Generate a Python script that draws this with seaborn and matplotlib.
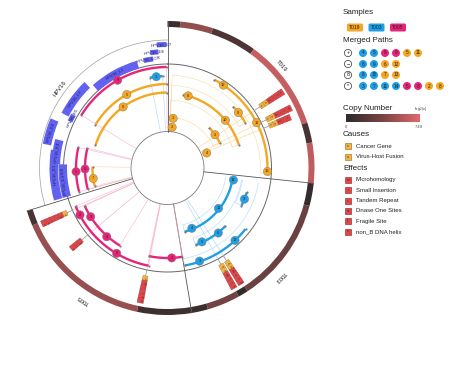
import numpy as np
import matplotlib
matplotlib.use("Agg")
import matplotlib.pyplot as plt
import seaborn as sns
import pandas as pd
from matplotlib.colors import LinearSegmentedColormap, Normalize
from matplotlib.patches import FancyBboxPatch, Rectangle, Circle

sns.set_theme(style="white")
plt.rcParams['font.family'] = ['Liberation Sans', 'DejaVu Sans']

# ---------------- data ----------------
samples = ["T019", "T003", "T005"]
sample_colors = ["#f5a623", "#1e9fe8", "#e8247a"]
sample_light = ["#f9d79a", "#a8d8f6", "#f6b0cf"]

sector_names = ["T019", "T003", "T005", "HPV16"]
sector_start = [0, 96, 170.5, 253]
sector_end = [96, 170.5, 253, 360]
sector_label_theta = [48, 134, 212.5, 306.5]
sector_label_r = [153, 157, 156, 134]

# copy number ring (degrees clockwise from top)
cn_start = [0, 5, 18, 36, 72, 80, 96, 105, 147, 151, 164, 170.5, 192, 247]
cn_end = [5, 18, 36, 72, 80, 96, 105, 147, 151, 164, 170.5, 192, 247, 253]
cn_value = [0.5, 4.6, 1.6, 6.4, 1.2, 6.2, 0.3, 3.0, 0.3, 3.4, 0.6, 0.8, 4.8, 1.2]
cn_max = 7.49

# merged path arcs: sample, radius, start, end
arc_sample = ["T019", "T019", "T019", "T019", "T019", "T019", "T019", "T019", "T019", "T019",
              "T003", "T003", "T003", "T003", "T003",
              "T005", "T005", "T005", "T005", "T005", "T005"]
arc_r = [100, 75, 90, 58, 42, 50, 41, 84, 75.5, 75,
         66, 83, 82, 99, 92,
         101, 91.5, 82.5, 99.5, 91, 90]
arc_start = [28, 12, 47, 46, 66, 4, 4, 301, 287.5, 256,
             98.5, 107, 135, 128, 349,
             301.5, 255, 255, 191, 211.5, 170.5]
arc_end = [93, 72, 60, 65, 72, 9, 9, 359.5, 359.5, 271,
           165, 117, 160, 170, 357,
           359.5, 283, 284, 247.5, 245.5, 192]
arc_bracket = [True, True, True, True, False, False, False, False, False, False,
               True, True, True, True, False,
               False, False, False, False, False, False]
arc_stem = [False, False, False, False, False, False, False, False, False, True,
            False, False, False, False, True,
            True, True, True, True, True, True]

# nodes on merged paths
node_sample = ["T019"] * 13 + ["T003"] * 9 + ["T005"] * 8
node_theta = [6.5, 6.5, 16, 34, 50.5, 52, 55, 63, 69, 92, 331, 324, 262,
              100.3, 112, 128.4, 158, 142, 155, 137, 161, 353,
              330.4, 267.7, 269.3, 241.8, 210.8, 237.6, 221.5, 177.3]
node_r = [50, 41, 75, 100, 75, 90, 58, 100, 42, 100, 84, 75.5, 75,
          67, 83, 65, 65, 82.5, 81.5, 99, 98.5, 92,
          101, 91.5, 82.5, 99.3, 99.3, 91, 91.7, 90]
node_label = ["1", "2", "8", "12", "10", "9", "3", "11", "4", "13", "5", "6", "7",
              "14", "9", "11", "4", "6", "5", "12", "3", "1",
              "9", "5", "6", "2", "8", "3", "4", "1"]

# causes / effects annotation stacks
site_theta = [56.5, 64, 67.5, 147.5, 151, 191.5, 230, 246]
site_r0 = [111, 110, 110, 110, 110, 110, 112, 110]
site_codes = [["c", "u", "m", "i", "t", "s"],
              ["c", "u", "m", "i", "t", "d"],
              ["c", "u", "m", "i", "t"],
              ["c", "u", "m", "i", "t", "d"],
              ["c", "u", "m", "i", "t", "s"],
              ["c", "m", "i", "t", "d", "n"],
              ["m", "i", "t"],
              ["u", "m", "i", "t", "d", "n"]]
site_links = ["T019", "T019", "T019", "T003", "T003", "T005", "T005", "T005"]

# HPV16 genes
gene_name = ["HPV16_E7", "HPV16_E6", "HPV16_LCR", "HPV16_L1", "HPV16_L2", "HPV16_E5",
             "HPV16_E2", "HPV16_E4", "HPV16_E1", "HPV16_E1^E4"]
gene_start = [355, 351.5, 347.5, 318, 297.5, 295.5, 281, 272, 254, 254]
gene_end = [359.5, 355.5, 352.5, 344, 316, 299.5, 293, 284.5, 279, 272]
gene_r0 = [121, 114, 107.5, 103.5, 111.5, 105.5, 118.5, 107.5, 109.5, 100.5]
gene_h = [5, 5, 5, 8, 8, 5, 8.5, 8.5, 8.5, 8.5]

# legend content
merged_symbols = ["+", "\u2212", "8", "*"]
merged_rows = [[("T003", "4"), ("T003", "5"), ("T005", "6"), ("T005", "9"), ("T019", "5"), ("T019", "11")],
               [("T003", "8"), ("T003", "9"), ("T019", "6"), ("T019", "12")],
               [("T003", "6"), ("T003", "10"), ("T019", "7"), ("T019", "13")],
               [("T003", "3"), ("T003", "7"), ("T003", "11"), ("T003", "14"), ("T005", "5"), ("T005", "8"),
                ("T019", "2"), ("T019", "8")]]
cause_codes = ["c", "u"]
cause_labels = ["Cancer Gene", "Virus-Host Fusion"]
effect_codes = ["m", "i", "t", "d", "f", "n"]
effect_labels = ["Microhomology", "Small Insertion", "Tandem Repeat", "Dnase One Sites",
                 "Fragile Site", "non_B DNA helix"]

# ---------------- drawing ----------------
col = dict(zip(samples, sample_colors))
light = dict(zip(samples, sample_light))
cmap = LinearSegmentedColormap.from_list("cn", ["#2e2a2a", "#7a4545", "#e2686c"])
norm = Normalize(0, cn_max)
cause_fill, cause_edge = "#f0b54a", "#b57a1e"
effect_fill, effect_edge = "#e0474c", "#a83232"

fig = plt.figure(figsize=(4.74, 3.72), dpi=100)
fig.patch.set_facecolor("white")
cx, cy, R = 167.5, 168, 150
ax = fig.add_axes([(cx - R) / 474, (372 - cy - R) / 372, 2 * R / 474, 2 * R / 372], projection="polar")
ax.set_theta_zero_location("N")
ax.set_theta_direction(-1)
ax.set_ylim(0, R)
ax.set_axis_off()
rad = np.deg2rad


def arc(r, a, b, **kw):
    t = np.linspace(rad(a), rad(b), max(int(abs(b - a) * 2), 4))
    ax.plot(t, np.full_like(t, r), **kw)


# base circles
arc(36.5, 0, 360, color="#7a7a7a", lw=0.6)
arc(104, 0, 360, color="#666666", lw=0.7)
arc(128, 253, 360, color="#a0a0a0", lw=0.5)
for b in sector_start:
    ax.plot([rad(b), rad(b)], [36.5, 147], color="#555555", lw=0.6)

# copy number ring
for s, e, v in zip(cn_start, cn_end, cn_value):
    ax.bar(rad((s + e) / 2), 6, width=rad(e - s), bottom=141, color=cmap(norm(v)),
           edgecolor="none", align="center")

# sector labels
for name, t, r in zip(sector_names, sector_label_theta, sector_label_r):
    ax.text(rad(t), r, name, rotation=-t, rotation_mode="anchor", ha="center", va="center",
            fontsize=4.2, color="#222222")

# genes
for g, s, e, r0, h in zip(gene_name, gene_start, gene_end, gene_r0, gene_h):
    ax.bar(rad((s + e) / 2), h, width=rad(e - s), bottom=r0, color="#6161f2", edgecolor="none",
           zorder=2)
    m = (s + e) / 2
    ax.text(rad(m), r0 + h / 2, g, rotation=-m, rotation_mode="anchor",
            ha="center", va="center", fontsize=3.1, color="#1d1d5a", zorder=2.5)

# stems / brackets
for smp, r, a, b, br, st in zip(arc_sample, arc_r, arc_start, arc_end, arc_bracket, arc_stem):
    lc = light[smp]
    if st:
        for ang in (a, b):
            ax.plot([rad(ang), rad(ang)], [37, r], color=lc, lw=0.45, alpha=0.85)
    if br:
        base = sector_start[sector_names.index(smp)] + 3
        rr = r - 7
        arc(rr, base, b, color=lc, lw=0.45, alpha=0.85)
        ax.plot([rad(b), rad(b)], [rr, r], color=lc, lw=0.45, alpha=0.85)
        if smp == "T019":
            ax.plot([rad(base), rad(base)], [40, rr], color=lc, lw=0.45, alpha=0.85)

# connectors to annotation stacks
for t, r0, smp in zip(site_theta, site_r0, site_links):
    ax.plot([rad(t), rad(t)], [104, r0], color="#8a8a8a", lw=0.5)
    ax.plot([rad(t), rad(t)], [37, 104], color=light[smp], lw=0.45)

# annotation stacks
bh = 4.6
for t, r0, codes in zip(site_theta, site_r0, site_codes):
    for k, c in enumerate(codes):
        is_cause = c in cause_codes
        ax.bar(rad(t), bh, width=rad(2.6), bottom=r0 + k * bh,
               color=cause_fill if is_cause else effect_fill,
               edgecolor=cause_edge if is_cause else effect_edge, lw=0.3)
        ax.text(rad(t), r0 + k * bh + bh / 2, c, fontsize=2.4, ha="center", va="center",
                rotation=90 - t, color="#5a2a10")

# arcs
for smp, r, a, b in zip(arc_sample, arc_r, arc_start, arc_end):
    arc(r, a, b, color=col[smp], lw=1.7, solid_capstyle="butt", zorder=3)
ends_t = [rad(v) for v in arc_start + arc_end]
ends_r = arc_r + arc_r
ax.scatter(ends_t, ends_r, s=2.5, color="#7d7d7d", zorder=4, linewidths=0)

# nodes
nodes = pd.DataFrame({"theta": rad(np.array(node_theta)), "r": node_r,
                      "sample": node_sample, "label": node_label})
sns.scatterplot(data=nodes, x="theta", y="r", hue="sample", palette=col, s=36,
                edgecolor="#777777", linewidth=0.3, legend=False, ax=ax, zorder=5)
for t, r, lab in zip(nodes["theta"], nodes["r"], nodes["label"]):
    ax.text(t, r, lab, fontsize=2.9, ha="center", va="center", color="#3a2a10", zorder=6)
ax.set_xlabel("")
ax.set_ylabel("")
ax.set_ylim(0, R)

# ---------------- legend ----------------
lg = fig.add_axes([0, 0, 1, 1])
lg.set_xlim(0, 474)
lg.set_ylim(372, 0)
lg.axis("off")
lg.patch.set_alpha(0)

head = dict(fontsize=5.8, color="#222222", va="center", ha="left")
item = dict(fontsize=4.3, color="#222222", va="center", ha="left")

lg.text(343, 13, "Samples", **head)
for k, s in enumerate(samples):
    x0 = 347 + k * 21.5
    lg.add_patch(FancyBboxPatch((x0, 23.5), 16, 8, boxstyle="round,pad=0,rounding_size=1.6",
                                fc=col[s], ec="none"))
    lg.text(x0 + 8, 27.5, s, fontsize=3.6, ha="center", va="center", color="#222222")

lg.text(343, 40, "Merged Paths", **head)
for i, (sym, row) in enumerate(zip(merged_symbols, merged_rows)):
    y = 53 + i * 11
    lg.add_patch(Circle((348, y), 3.6, fc="white", ec="#333333", lw=0.5))
    lg.text(348, y, sym, fontsize=4, ha="center", va="center", color="#222222")
    for j, (s, lab) in enumerate(row):
        xx = 363 + j * 11
        lg.add_patch(Circle((xx, y), 4, fc=col[s], ec="none"))
        lg.text(xx, y, lab, fontsize=3.4, ha="center", va="center", color="#222222")

lg.text(343, 108, "Copy Number", **head)
lg.text(414, 109, "log$_2$(x)", fontsize=3, ha="left", va="center", color="#444444")
grad = np.linspace(0, cn_max, 200).reshape(1, -1)
lg.imshow(grad, cmap=cmap, norm=norm, extent=(346, 420, 122, 114), aspect="auto")
lg.set_xlim(0, 474)
lg.set_ylim(372, 0)
lg.text(346, 126.5, "0", fontsize=3, ha="center", va="center", color="#444444")
lg.text(419, 126.5, "7.49", fontsize=3, ha="center", va="center", color="#444444")

lg.text(343, 134, "Causes", **head)
for k, (c, lab) in enumerate(zip(cause_codes, cause_labels)):
    y = 146 + k * 10.5
    lg.add_patch(Rectangle((345, y - 3), 6, 6, fc=cause_fill, ec=cause_edge, lw=0.5))
    lg.text(348, y, c, fontsize=3, ha="center", va="center", color="#5a2a10")
    lg.text(356, y, lab, **item)

lg.text(343, 168, "Effects", **head)
for k, (c, lab) in enumerate(zip(effect_codes, effect_labels)):
    y = 180 + k * 10.3
    lg.add_patch(Rectangle((345, y - 3), 6, 6, fc=effect_fill, ec=effect_edge, lw=0.5))
    lg.text(348, y, c, fontsize=3, ha="center", va="center", color="#5a2a10")
    lg.text(356, y, lab, **item)

fig.savefig("out.png", dpi=100, facecolor="white")
